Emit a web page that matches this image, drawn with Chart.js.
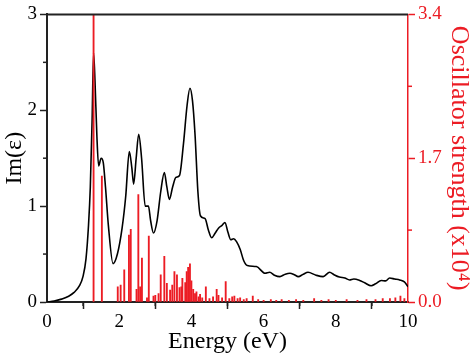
<!DOCTYPE html>
<html>
<head>
<meta charset="utf-8">
<script src="https://cdn.jsdelivr.net/npm/chart.js@4/dist/chart.umd.min.js"></script>
<style>
  html, body { margin: 0; padding: 0; background: #fff; }
  canvas { display: block; }
</style>
</head>
<body>
<canvas id="myChart" width="474" height="358"></canvas>
<script>
// Im(eps) curve
const energy = [0, 0.2, 0.4, 0.6, 0.75, 0.9, 1.0, 1.08, 1.15, 1.2, 1.25, 1.29, 1.33, 1.38, 1.43, 1.5, 1.56, 1.62, 1.7, 1.83,
  1.95, 2.08, 2.18, 2.28, 2.35, 2.4, 2.47, 2.54, 2.62, 2.72, 2.81, 2.87, 2.95, 3.05, 3.15, 3.25, 3.32, 3.39, 3.48, 3.57,
  3.67, 3.78, 3.88, 3.96, 4.03, 4.1, 4.18, 4.25, 4.38, 4.47, 4.56, 4.66, 4.75, 4.85, 4.93, 5.01, 5.09, 5.17, 5.25, 5.35,
  5.45, 5.55, 5.8, 6.04, 6.17, 6.3, 6.45, 6.6, 6.73, 6.85, 6.96, 7.1, 7.23, 7.45, 7.65, 7.83, 7.95, 8.1, 8.25, 8.38,
  8.5, 8.66, 8.8, 8.98, 9.1, 9.26, 9.38, 9.49, 9.63, 9.77, 9.9, 10.0];
const imEps = [0, 0.01, 0.03, 0.06, 0.1, 0.17, 0.27, 0.45, 0.8, 1.2, 1.9, 2.6, 2.3, 1.75, 1.42, 1.5, 1.45, 1.2, 0.8, 0.4,
  0.5, 0.77, 1.1, 1.57, 1.4, 1.23, 1.5, 1.75, 1.5, 1.0, 1.0, 0.85, 0.72, 0.85, 1.15, 1.35, 1.2, 1.07, 1.2, 1.3,
  1.32, 1.65, 2.05, 2.23, 2.1, 1.75, 1.15, 0.9, 0.87, 0.75, 0.67, 0.72, 0.77, 0.8, 0.83, 0.73, 0.65, 0.66, 0.63, 0.55,
  0.43, 0.38, 0.37, 0.3, 0.31, 0.28, 0.265, 0.29, 0.3, 0.285, 0.265, 0.29, 0.31, 0.28, 0.265, 0.31, 0.285, 0.26, 0.25, 0.23,
  0.24, 0.225, 0.2, 0.17, 0.19, 0.225, 0.22, 0.25, 0.24, 0.23, 0.21, 0.16];

// oscillator strength sticks (x10^4)
const stickE = [1.29, 1.52, 1.96, 2.04, 2.14, 2.27, 2.32, 2.48, 2.53, 2.58, 2.63, 2.77, 2.82, 2.95, 3.0, 3.09, 3.15, 3.25, 3.32, 3.41,
  3.47, 3.53, 3.6, 3.67, 3.72, 3.75, 3.83, 3.87, 3.91, 3.96, 4.0, 4.05, 4.1, 4.14, 4.2, 4.24, 4.3, 4.4, 4.5, 4.6,
  4.7, 4.75, 4.85, 4.95, 5.05, 5.13, 5.19, 5.28, 5.35, 5.45, 5.53, 5.7, 5.85, 6.0, 6.2, 6.35, 6.5, 6.7, 6.9, 7.1,
  7.4, 7.6, 7.8, 8.0, 8.3, 8.6, 8.85, 9.1, 9.3, 9.5, 9.65, 9.79, 9.9];
const stickF = [3.4, 1.49, 0.18, 0.2, 0.38, 0.79, 0.86, 0.15, 1.27, 0.18, 0.52, 0.05, 0.78, 0.07, 0.08, 0.1, 0.32, 0.54, 0.22, 0.14,
  0.2, 0.36, 0.32, 0.17, 0.18, 0.28, 0.23, 0.36, 0.41, 0.45, 0.25, 0.15, 0.1, 0.12, 0.06, 0.09, 0.05, 0.18, 0.04, 0.06,
  0.15, 0.08, 0.05, 0.24, 0.04, 0.06, 0.07, 0.04, 0.05, 0.03, 0.04, 0.07, 0.03, 0.02, 0.03, 0.02, 0.03, 0.02, 0.03, 0.02,
  0.04, 0.02, 0.03, 0.02, 0.03, 0.02, 0.03, 0.03, 0.04, 0.04, 0.05, 0.07, 0.04];

const xTicks = [0, 2, 4, 6, 8, 10];
const xMinor = [1, 3, 5, 7, 9];
const yTicks = [0, 1, 2, 3];
const yMinor = [0.5, 1.5, 2.5];
const y2Ticks = [0, 1.7, 3.4];
const y2Minor = [0.85, 2.55];

const RED = 'rgb(236, 28, 36)';
const serif = 'Liberation Serif';

// minor ticks + top frame line
const frame = {
  id: 'frame',
  afterDraw(chart) {
    const ctx = chart.ctx;
    const a = chart.chartArea;
    const sx = chart.scales.x, sy = chart.scales.y, sy2 = chart.scales.y2;
    ctx.save();
    ctx.lineWidth = 1.5;
    ctx.strokeStyle = '#222';
    xMinor.forEach(v => {
      const p = sx.getPixelForValue(v);
      ctx.beginPath(); ctx.moveTo(p, a.bottom); ctx.lineTo(p, a.bottom + 4); ctx.stroke();
    });
    yMinor.forEach(v => {
      const p = sy.getPixelForValue(v);
      ctx.beginPath(); ctx.moveTo(a.left, p); ctx.lineTo(a.left - 4, p); ctx.stroke();
    });
    ctx.strokeStyle = RED;
    y2Minor.forEach(v => {
      const p = sy2.getPixelForValue(v);
      ctx.beginPath(); ctx.moveTo(a.right, p); ctx.lineTo(a.right + 4, p); ctx.stroke();
    });
    ctx.strokeStyle = '#222';
    ctx.lineWidth = 2;
    ctx.beginPath(); ctx.moveTo(a.left - 1, a.top); ctx.lineTo(a.right, a.top); ctx.stroke();
    ctx.restore();
  }
};

const config = {
  data: {
    datasets: [{
      type: 'bar',
      yAxisID: 'y2',
      data: stickE.map((e, i) => ({ x: e, y: stickF[i] })),
      backgroundColor: RED,
      barThickness: 1.2,
      borderWidth: 0,
      order: 0
    }, {
      type: 'line',
      yAxisID: 'y',
      data: energy.map((e, i) => ({ x: e, y: imEps[i] })),
      borderColor: '#000',
      borderWidth: 1.6,
      pointRadius: 0,
      tension: 0.4,
      cubicInterpolationMode: 'monotone',
      fill: false,
      order: 1
    }]
  },
  options: {
    responsive: false,
    animation: false,
    layout: { padding: { top: 8, left: 0, right: 0, bottom: 0 } },
    plugins: { legend: { display: false }, tooltip: { enabled: false } },
    scales: {
      x: {
        type: 'linear',
        min: 0, max: 10,
        offset: false,
        afterBuildTicks: s => { s.ticks = xTicks.map(v => ({ value: v })); },
        afterFit: s => { s.height = 56; },
        ticks: { color: '#000', font: { family: serif, size: 19 }, padding: 2, maxRotation: 0 },
        grid: { drawOnChartArea: false, tickLength: 7, tickColor: '#222', tickWidth: 1.5 },
        border: { color: '#222', width: 2 },
        title: { display: true, text: 'Energy (eV)', color: '#000', font: { family: serif, size: 24 }, padding: { top: 0, bottom: 2 } }
      },
      y: {
        position: 'left',
        min: 0, max: 3,
        afterBuildTicks: s => { s.ticks = yTicks.map(v => ({ value: v })); },
        afterFit: s => { s.width = 47; },
        ticks: { color: '#000', font: { family: serif, size: 19 }, padding: 3 },
        grid: { drawOnChartArea: false, tickLength: 7, tickColor: '#222', tickWidth: 1.5 },
        border: { color: '#222', width: 2 },
        title: { display: true, text: 'Im(ε)', color: '#000', font: { family: serif, size: 24 }, padding: { top: 0, bottom: 0 } }
      },
      y2: {
        position: 'right',
        min: 0, max: 3.4,
        afterBuildTicks: s => { s.ticks = y2Ticks.map(v => ({ value: v })); },
        afterFit: s => { s.width = 66; },
        ticks: { color: RED, font: { family: serif, size: 19 }, padding: 3, callback: v => v.toFixed(1) },
        grid: { drawOnChartArea: false, tickLength: 7, tickColor: RED, tickWidth: 1.5 },
        border: { color: RED, width: 1.5 },
        title: { display: true, text: 'Oscillator strength (x10⁴)', color: RED, font: { family: serif, size: 26 }, padding: { top: 0, bottom: 1 } }
      }
    }
  },
  plugins: [frame]
};

const myChart = new Chart(document.getElementById('myChart'), config);
</script>
</body>
</html>
